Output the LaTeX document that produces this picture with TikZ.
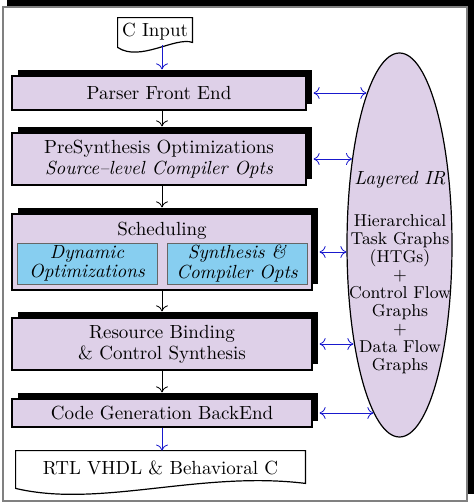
\documentclass[tikz,border=0pt]{standalone}
\usepackage{amsmath}
\usetikzlibrary{shapes.geometric,shadows,arrows.meta}

\definecolor{stagefill}{RGB}{222,208,232}
\definecolor{optfill}{RGB}{135,206,240}
\definecolor{linkblue}{RGB}{25,25,205}

\tikzset{
  stage/.style={draw=black,line width=0.6pt,fill=stagefill,align=center,inner sep=0pt,
    font=\fontsize{9.5}{10.5}\selectfont,
    drop shadow={shadow xshift=3pt,shadow yshift=3pt,fill=black,opacity=1}},
  optbox/.style={draw=black!60,line width=0.5pt,fill=optfill,align=center,inner sep=0pt,
    font=\fontsize{9.5}{8.5}\selectfont\itshape},
  doc/.style={inner sep=0pt,align=center,font=\fontsize{9.5}{10.5}\selectfont},
  flow/.style={-{To[length=3pt,width=6pt]},black},
  link/.style={{To[length=3pt,width=6pt]}-{To[length=3pt,width=6pt]},linkblue}
}

\begin{document}
\begin{tikzpicture}[x=0.5pt,y=-0.5pt]
	\useasboundingbox (0,0) rectangle (474,504);
	% frame
	\fill[black] (7,0) rectangle (474,494);
	\draw[gray,line width=0.7pt,fill=white] (3,7) rectangle (467,501);

	% input and output documents
	\node[doc,minimum width=37pt,minimum height=13.5pt] (cin) at (155,31.5) {C Input};
	\draw[line width=0.6pt] (cin.south west) -- (cin.north west) -- (cin.north east) -- ([yshift=1.5pt]cin.south east)
		.. controls +(-8.5pt,3pt) and +(11pt,-7.5pt) .. ([yshift=-1pt]cin.south west) -- cycle;
	\node[doc,minimum width=144.5pt,minimum height=17pt] (rtl) at (160.5,468) {RTL VHDL \& Behavioral C};
	\draw[line width=0.6pt] (rtl.south west) -- (rtl.north west) -- (rtl.north east) -- ([yshift=1pt]rtl.south east)
		.. controls +(-52.5pt,6.5pt) and +(42pt,-10pt) .. ([yshift=-1.5pt]rtl.south west) -- cycle;

	% stages
	\node[stage,minimum width=147pt,minimum height=17pt] (parser) at (159,93) {Parser Front End};
	\node[stage,minimum width=147pt,minimum height=26pt] (presyn) at (159,159)
		{PreSynthesis Optimizations\\\textit{Source--level Compiler Opts}};
	\node[stage,minimum width=150pt,minimum height=38pt] (sched) at (162,252) {};
	\node[font=\fontsize{9.5}{10.5}\selectfont] (schedtitle) at (162,231) {Scheduling};
	\node[optbox,minimum width=70pt,minimum height=20.5pt] (dynopt) at (87,263.5) {Dynamic\\Optimizations};
	\node[optbox,minimum width=70pt,minimum height=20.5pt] (synopt) at (237,263.5) {Synthesis \&\\Compiler Opts};
	\node[stage,minimum width=150pt,minimum height=26pt] (bind) at (162,344)
		{Resource Binding\\\& Control Synthesis};
	\node[stage,minimum width=150pt,minimum height=14pt] (codegen) at (162,413) {Code Generation BackEnd};

	% layered IR
	\node[ellipse,draw=black,line width=0.6pt,fill=stagefill,minimum width=52.5pt,minimum height=192pt,inner sep=0pt] (ir) at (399.5,245) {};
	\node[font=\fontsize{9.5}{10.5}\selectfont\itshape] (irtitle) at (400,180) {Layered IR};
	\node[align=center,font=\fontsize{8.6}{9}\selectfont] (irbody) at (400,294.5)
		{Hierarchical\\Task Graphs\\(HTGs)\\+\\Control Flow\\Graphs\\+\\Data Flow\\Graphs};

	\draw[flow,linkblue] (cin.south -| sched.north) -- ([yshift=3pt]parser.north -| sched.north);
	\draw[flow] (parser.south -| sched.north) -- ([yshift=3pt]presyn.north -| sched.north);
	\draw[flow] (presyn.south -| sched.north) -- ([yshift=3pt]sched.north);
	\draw[flow] (sched.south) -- ([yshift=3pt]bind.north);
	\draw[flow] (bind.south) -- ([yshift=3pt]codegen.north);
	\draw[flow,linkblue] (codegen.south) -- (rtl.north -| codegen.south);

	\draw[link] ([xshift=3.5pt]parser.east) -- ([xshift=10pt]parser.east -| ir.west);
	\draw[link] ([xshift=3.5pt]presyn.east) -- ([xshift=2.8pt]presyn.east -| ir.west);
	\draw[link] ([xshift=3.5pt]sched.east) -- (sched.east -| ir.west);
	\draw[link] ([xshift=3.5pt]bind.east) -- ([xshift=3.5pt]bind.east -| ir.west);
	\draw[link] ([xshift=3.5pt]codegen.east) -- ([xshift=13.5pt]codegen.east -| ir.west);
\end{tikzpicture}
\end{document}
